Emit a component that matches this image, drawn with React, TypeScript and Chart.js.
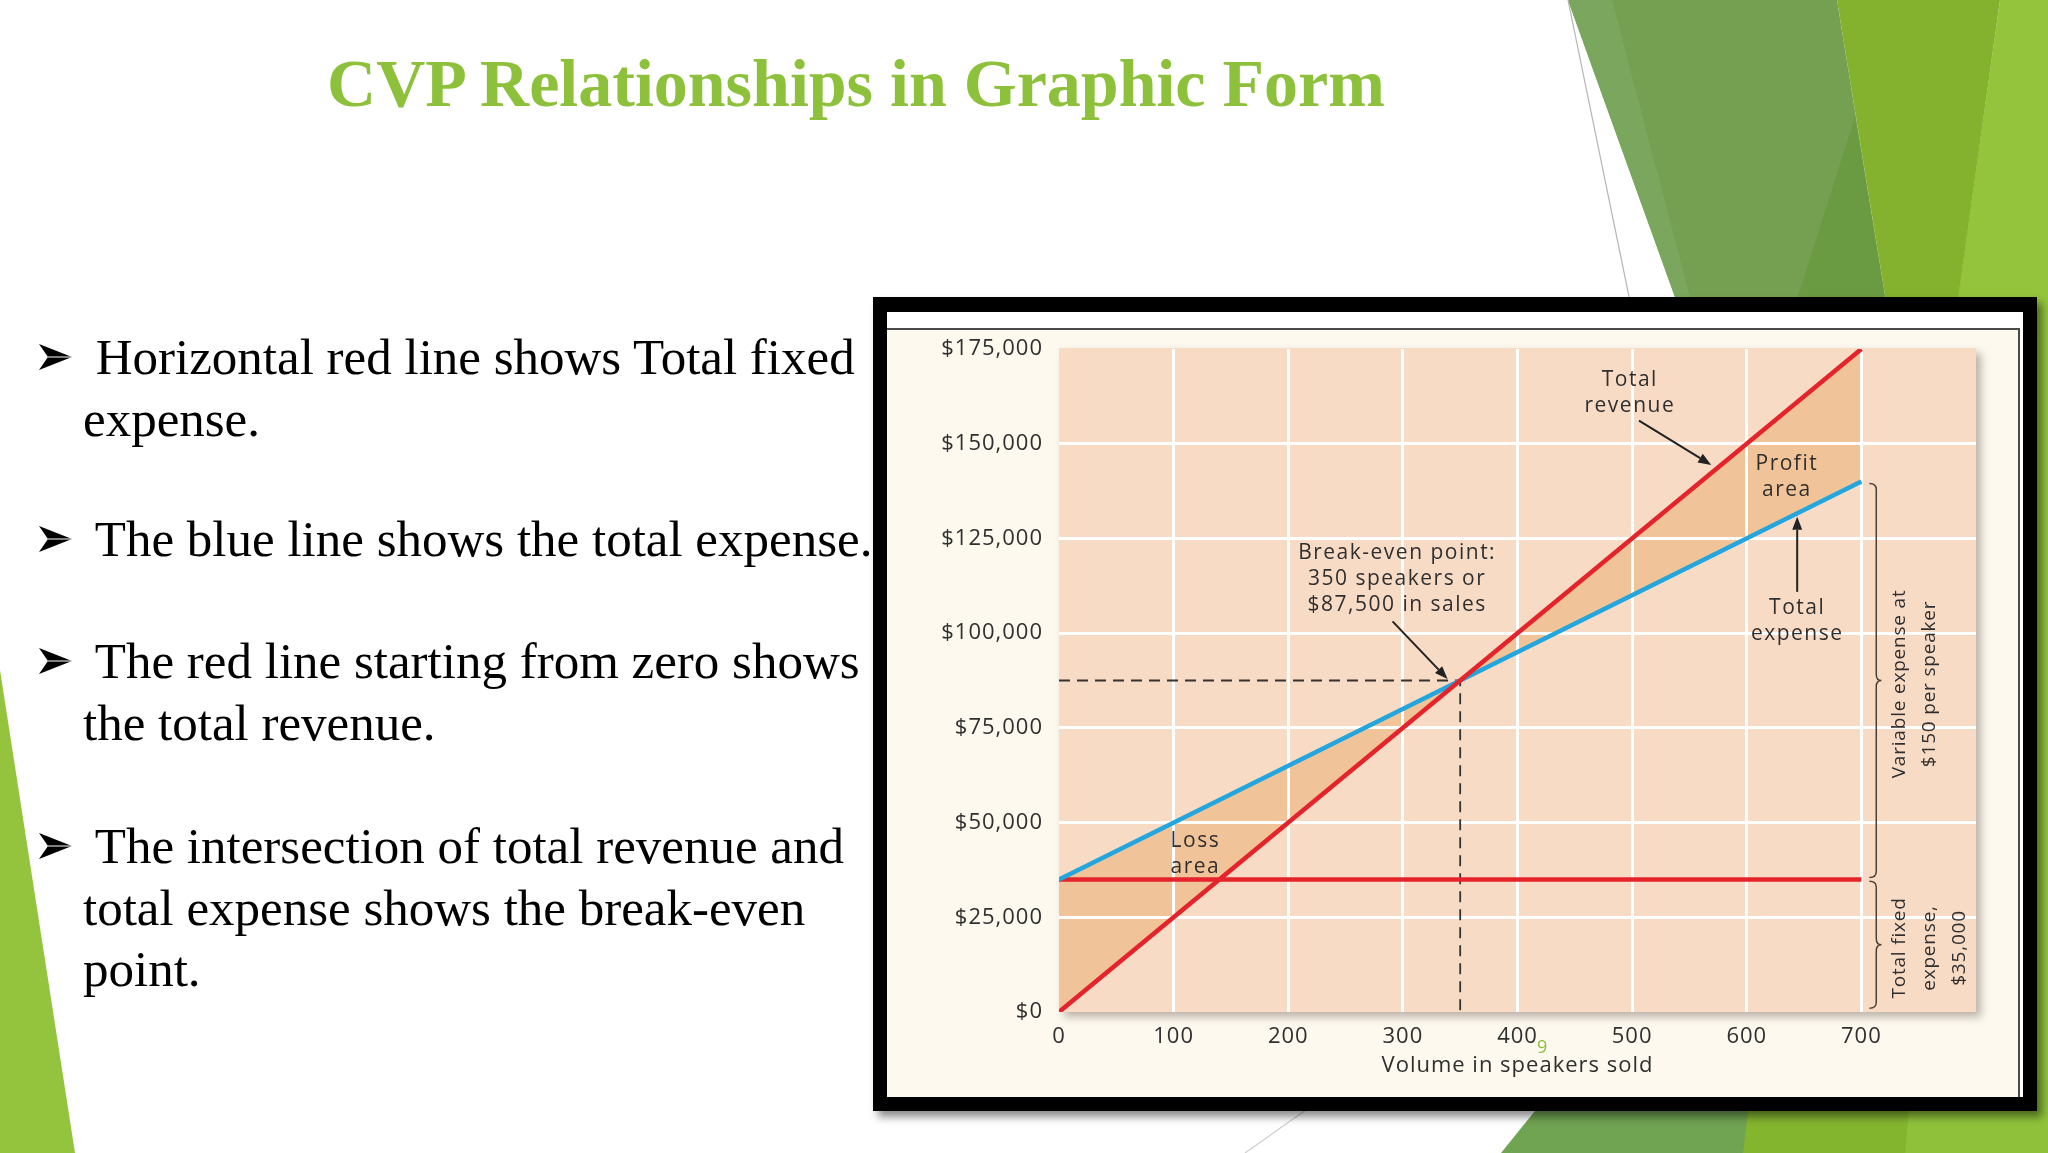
import React, { useEffect, useRef } from 'react';
import { Chart, registerables } from 'chart.js';

// ---------- data ----------
const volumeTicks = [0, 100, 200, 300, 400, 500, 600, 700];
const dollarTicks = [0, 25000, 50000, 75000, 100000, 125000, 150000, 175000];

const revenueVolume = [0, 700];
const revenueValues = [0, 175000];
const expenseVolume = [0, 700];
const expenseValues = [35000, 140000];
const fixedVolume = [0, 700];
const fixedValues = [35000, 35000];
const guideVolume = [0, 350, 350];
const guideValues = [87500, 87500, 0];

const noteTexts = [
  ['Total', 'revenue'],
  ['Profit', 'area'],
  ['Total', 'expense'],
  ['Break-even point:', '350 speakers or', '$87,500 in sales'],
  ['Loss', 'area'],
];
const noteVolume = [498, 635, 644, 295, 119];
const noteValue = [163400, 141200, 103200, 114300, 41800];

const arrowFromVolume = [506, 644, 291];
const arrowFromValue = [156100, 110900, 103100];
const arrowToVolume = [569, 644, 339];
const arrowToValue = [144400, 130700, 87900];

const braceTopValue = [139500, 34500];
const braceBottomValue = [35500, 1000];
const braceVolume = [707, 713, 717.5]; // end, spine, tip

const sideTexts = [
  ['Variable expense at', '$150 per speaker'],
  ['Total fixed', 'expense,', '$35,000'],
];
const sideVolume = [746, 759.4];
const sideValue = [86600, 16900];

const bullets = [
  ['Horizontal red line shows Total fixed', 'expense.'],
  ['The blue line shows the total expense.'],
  ['The red line starting from zero shows', 'the total revenue.'],
  ['The intersection of total revenue and', 'total expense shows the break-even', 'point.'],
];
const bulletTops = [327, 509, 631, 816];

// ---------- styles ----------
const PEACH = '#f8dbc5';
const FILL = '#f1c398';
const CREAM = '#fdf9ee';
const RED = '#e4232b';
const BLUE = '#23a6de';
const TEXT = '#2f2f2f';
const FONT = "'Open Sans', sans-serif";

const plotBackground = {
  id: 'plotBackground',
  beforeDraw(chart: any) {
    const { ctx, chartArea: a } = chart;
    if (!a) return;
    ctx.save();
    ctx.shadowColor = 'rgba(70,50,40,0.35)';
    ctx.shadowBlur = 8;
    ctx.shadowOffsetX = 5;
    ctx.shadowOffsetY = 5;
    ctx.fillStyle = PEACH;
    ctx.fillRect(a.left, a.top - 1, a.right - a.left, a.bottom - a.top + 1);
    ctx.restore();
    (ctx as any).letterSpacing = '1px';
  },
};

Chart.register(plotBackground);
Chart.register(...registerables);

function drawArrow(ctx: any, x1: number, y1: number, x2: number, y2: number) {
  const ang = Math.atan2(y2 - y1, x2 - x1);
  const hl = 13;
  const hw = 5;
  const bx = x2 - hl * Math.cos(ang);
  const by = y2 - hl * Math.sin(ang);
  ctx.beginPath();
  ctx.moveTo(x1, y1);
  ctx.lineTo(bx, by);
  ctx.stroke();
  ctx.beginPath();
  ctx.moveTo(x2, y2);
  ctx.lineTo(bx + hw * Math.sin(ang), by - hw * Math.cos(ang));
  ctx.lineTo(bx - hw * Math.sin(ang), by + hw * Math.cos(ang));
  ctx.closePath();
  ctx.fill();
}

const annotations = {
  id: 'cvpAnnotations',
  afterDatasetsDraw(chart: any) {
    const { ctx } = chart;
    const xs = chart.scales.x;
    const ys = chart.scales.y;
    const px = (v: number) => xs.getPixelForValue(v);
    const py = (v: number) => ys.getPixelForValue(v);
    ctx.save();
    (ctx as any).letterSpacing = '1.5px';
    ctx.fillStyle = TEXT;
    ctx.font = `500 21px ${FONT}`;
    ctx.textAlign = 'center';
    ctx.textBaseline = 'middle';
    noteTexts.forEach((lines, i) => {
      const cx = px(noteVolume[i]);
      const cy = py(noteValue[i]);
      lines.forEach((t, j) => {
        ctx.fillText(t, cx, cy + (j - (lines.length - 1) / 2) * 26);
      });
    });

    ctx.strokeStyle = '#222222';
    ctx.fillStyle = '#222222';
    ctx.lineWidth = 2;
    arrowFromVolume.forEach((_, i) => {
      drawArrow(ctx, px(arrowFromVolume[i]), py(arrowFromValue[i]), px(arrowToVolume[i]), py(arrowToValue[i]));
    });

    // braces "}"
    ctx.strokeStyle = '#4a4038';
    ctx.lineWidth = 1.5;
    const xe = px(braceVolume[0]);
    const xsn = px(braceVolume[1]);
    const xt = px(braceVolume[2]);
    braceTopValue.forEach((_, i) => {
      const yt = py(braceTopValue[i]);
      const yb = py(braceBottomValue[i]);
      const ym = (yt + yb) / 2;
      const r = 6;
      ctx.beginPath();
      ctx.moveTo(xe, yt);
      ctx.quadraticCurveTo(xsn, yt, xsn, yt + r);
      ctx.lineTo(xsn, ym - r);
      ctx.quadraticCurveTo(xsn, ym, xt, ym);
      ctx.quadraticCurveTo(xsn, ym, xsn, ym + r);
      ctx.lineTo(xsn, yb - r);
      ctx.quadraticCurveTo(xsn, yb, xe, yb);
      ctx.stroke();
    });

    // rotated side texts
    ctx.fillStyle = TEXT;
    ctx.font = `500 19px ${FONT}`;
    (ctx as any).letterSpacing = '0.8px';
    sideTexts.forEach((lines, i) => {
      const cx = px(sideVolume[i]);
      const cy = py(sideValue[i]);
      ctx.save();
      ctx.translate(cx, cy);
      ctx.rotate(-Math.PI / 2);
      lines.forEach((t, j) => {
        ctx.fillText(t, 0, (j - (lines.length - 1) / 2) * 30);
      });
      ctx.restore();
    });
    ctx.restore();
  },
};

function CvpChart() {
  const ref = useRef<HTMLCanvasElement | null>(null);
  useEffect(() => {
    if (!ref.current) return;
    const pts = (xs: number[], ys: number[]) => xs.map((x, i) => ({ x, y: ys[i] }));
    const chart = new Chart(ref.current, {
      type: 'line',
      data: {
        datasets: [
          {
            label: 'Total revenue',
            data: pts(revenueVolume, revenueValues),
            borderColor: RED,
            borderWidth: 4.5,
            pointRadius: 0,
            tension: 0,
            fill: { target: 1, above: FILL, below: FILL },
            backgroundColor: FILL,
          },
          {
            label: 'Total expense',
            data: pts(expenseVolume, expenseValues),
            borderColor: BLUE,
            borderWidth: 4.5,
            pointRadius: 0,
            tension: 0,
            fill: false,
          },
          {
            label: 'Total fixed expense',
            data: pts(fixedVolume, fixedValues),
            borderColor: RED,
            borderWidth: 4.5,
            pointRadius: 0,
            tension: 0,
            fill: false,
          },
          {
            label: 'Break-even guide',
            data: pts(guideVolume, guideValues),
            borderColor: '#333333',
            borderWidth: 1.8,
            borderDash: [11, 7],
            pointRadius: 0,
            tension: 0,
            fill: false,
          },
        ],
      },
      options: {
        responsive: false,
        animation: false,
        layout: { padding: { left: 0, right: 40, top: 19, bottom: 0 } },
        plugins: {
          legend: { display: false },
          tooltip: { enabled: false },
          filler: { drawTime: 'beforeDraw' },
        },
        scales: {
          x: {
            type: 'linear',
            min: 0,
            max: 800,
            afterBuildTicks: (s: any) => {
              s.ticks = [...volumeTicks, 800].map((v) => ({ value: v }));
            },
            afterFit: (s: any) => {
              s.height = 85;
              s.paddingLeft = 0;
              s.paddingRight = 0;
            },
            ticks: {
              color: TEXT,
              font: { family: FONT, size: 22, weight: '500' },
              padding: 12,
              maxRotation: 0,
              autoSkip: false,
              callback: (v: any) => (volumeTicks.includes(Number(v)) ? String(v) : ''),
            },
            grid: {
              drawTicks: false,
              lineWidth: 3,
              color: (c: any) =>
                c.tick && (c.tick.value === 0 || c.tick.value >= 800) ? 'rgba(0,0,0,0)' : '#ffffff',
            },
            border: { display: false },
            title: {
              display: true,
              text: 'Volume in speakers sold',
              color: TEXT,
              font: { family: FONT, size: 22, weight: '500' },
              padding: { top: 0, bottom: 18 },
            },
          },
          y: {
            type: 'linear',
            min: 0,
            max: 175000,
            afterBuildTicks: (s: any) => {
              s.ticks = dollarTicks.map((v) => ({ value: v }));
            },
            afterFit: (s: any) => {
              s.width = 172;
              s.paddingTop = 0;
              s.paddingBottom = 0;
            },
            ticks: {
              color: TEXT,
              font: { family: FONT, size: 22, weight: '500' },
              padding: 16,
              callback: (v: any) => '$' + Number(v).toLocaleString('en-US'),
            },
            grid: {
              drawTicks: false,
              lineWidth: 3,
              color: (c: any) =>
                c.tick && (c.tick.value === 0 || c.tick.value >= 175000) ? 'rgba(0,0,0,0)' : '#ffffff',
            },
            border: { display: false },
          },
        },
      } as any,
      plugins: [annotations],
    });
    return () => chart.destroy();
  }, []);
  return (
    <canvas
      ref={ref}
      width={1129}
      height={767}
      style={{ position: 'absolute', left: 887, top: 330, width: 1129, height: 767 }}
    />
  );
}

function BulletArrow() {
  return (
    <svg
      width={34}
      height={26}
      viewBox="0 0 34 26"
      style={{ position: 'absolute', left: 0, top: 17 }}
    >
      <polygon points="0,0 33,13 0,26 9,13" fill="#000000" />
      <line x1={9} y1={13} x2={33} y2={13} stroke="#ffffff" strokeWidth={1} />
    </svg>
  );
}

export default function App() {
  return (
    <div
      style={{
        position: 'absolute',
        left: 0,
        top: 0,
        width: 2048,
        height: 1153,
        overflow: 'hidden',
        background: '#ffffff',
      }}
    >
      <svg width={2048} height={1153} style={{ position: 'absolute', left: 0, top: 0 }}>
        <polygon points="2000,0 2048,0 2048,1153 1837,1153" fill="#93c43c" />
        <polygon points="1568,0 1837,0 1902,400 1712,400" fill="#75a052" />
        <polygon points="1568,0 1612,0 1690,297 1675,297" fill="#7aa65d" />
        <polygon points="1855,117 1902,400 1765,400" fill="#6a9a41" />
        <polygon points="1837,0 2000,0 1944,400 1902,400" fill="#84b22f" />
        <line x1={1568} y1={0} x2={1640} y2={350} stroke="#b5b5b5" strokeWidth={1.2} />
        <polygon points="1501,1153 1560,1080 2048,1080 2048,1153" fill="#70a352" />
        <polygon points="1743,1153 1752,1080 2048,1080 2048,1153" fill="#84b52f" />
        <polygon points="1905,1153 1912,1080 2048,1080 2048,1153" fill="#8fc23a" />
        <line x1={1245} y1={1153} x2={1320} y2={1100} stroke="#cfcfcf" strokeWidth={1.2} />
        <polygon points="0,670 75,1153 0,1153" fill="#94c43d" />
      </svg>

      <div
        style={{
          position: 'absolute',
          left: 0,
          top: 49,
          width: 1712,
          textAlign: 'center',
          fontFamily: "'Liberation Serif', 'Times New Roman', serif",
          fontWeight: 'bold',
          fontSize: 68,
          lineHeight: '68px',
          color: '#8dc13c',
          whiteSpace: 'nowrap',
        }}
      >
        CVP Relationships in Graphic Form
      </div>

      {bullets.map((lines, i) => (
        <div
          key={i}
          style={{
            position: 'absolute',
            left: 39,
            top: bulletTops[i],
            fontFamily: "'Liberation Serif', 'Times New Roman', serif",
            fontSize: 51,
            lineHeight: '61.5px',
            color: '#000000',
            whiteSpace: 'pre',
          }}
        >
          <BulletArrow />
          {lines.map((t, j) => (
            <div key={j} style={{ paddingLeft: 44 }}>
              {j === 0 ? ' ' + t : t}
            </div>
          ))}
        </div>
      ))}

      <div
        style={{
          position: 'absolute',
          left: 873,
          top: 297,
          width: 1164,
          height: 814,
          background: '#000000',
          boxShadow: '5px 6px 8px rgba(0,0,0,0.45)',
        }}
      />
      <div style={{ position: 'absolute', left: 887, top: 312, width: 1136, height: 785, background: '#ffffff' }} />
      <div
        style={{
          position: 'absolute',
          left: 887,
          top: 328,
          width: 1133,
          height: 769,
          background: CREAM,
          borderTop: '2px solid #4a4a4a',
          borderRight: '2px solid #4a4a4a',
          boxSizing: 'border-box',
        }}
      />
      <CvpChart />
      <div
        style={{
          position: 'absolute',
          left: 1537,
          top: 1034,
          fontFamily: "'Open Sans', sans-serif",
          fontSize: 18,
          lineHeight: '24px',
          color: '#8cc03c',
        }}
      >
        9
      </div>
    </div>
  );
}
